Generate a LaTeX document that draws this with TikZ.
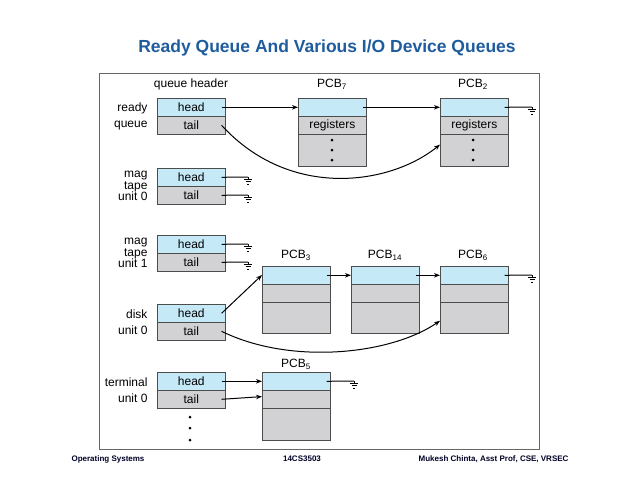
\documentclass[tikz,border=0pt]{standalone}
\usepackage{fontspec}
\setmainfont{Liberation Sans}
\usetikzlibrary{arrows.meta}
\definecolor{cblue}{HTML}{C6E9F8}
\definecolor{cgray}{HTML}{D2D2D4}
\definecolor{ttl}{HTML}{1F5C9E}
\begin{document}
\begin{tikzpicture}[x=1pt,y=-1pt,font=\fontsize{12}{12}\selectfont,
  cell/.style={draw=black!70,line width=0.6pt,minimum width=68pt,inner sep=0pt,anchor=north west},
  hb/.style={cell,fill=cblue,minimum height=18pt},
  gb/.style={cell,fill=cgray,minimum height=18pt},
  big/.style={cell,fill=cgray,minimum height=#1},
  lab/.style={align=right,anchor=east,font=\fontsize{12}{11.5}\selectfont},
  ar/.style={-{Stealth[length=6pt,width=4.5pt]},line width=1pt},
  gl/.style={line width=1pt},
  gnd/.pic={\draw[line width=0.8pt] (0,0)--(0,2) (-4,2)--(4,2) (-2.5,4.5)--(2.5,4.5) (-1,7)--(1,7);},
  dot/.style={circle,fill=black,inner sep=0pt,minimum size=3pt}]
\useasboundingbox (0,0) rectangle (638,493);
\node[font=\bfseries\fontsize{17.5}{19}\selectfont,text=ttl] (title) at (327,48) {Ready Queue And Various I/O Device Queues};
\draw[black!60,line width=0.7pt] (99,73) rectangle (539,449);
\node[font=\bfseries\fontsize{8}{9}\selectfont,text=black!85!blue,anchor=west] (f1) at (68,459) {Operating Systems};
\node[font=\bfseries\fontsize{8}{9}\selectfont,text=black!85!blue] (f2) at (302,459) {14CS3503};
\node[font=\bfseries\fontsize{8}{9}\selectfont,text=black!85!blue,anchor=east] (f3) at (572,459) {Mukesh Chinta, Asst Prof, CSE, VRSEC};
% headers
\node (qh) at (191,84) {queue header};
\node (l7) at (332,84) {PCB\textsubscript{7}};
\node (l2) at (473,84) {PCB\textsubscript{2}};
\node (l3) at (296,255) {PCB\textsubscript{3}};
\node (l14) at (385,255) {PCB\textsubscript{14}};
\node (l6) at (473,255) {PCB\textsubscript{6}};
\node (l5) at (296,364) {PCB\textsubscript{5}};
% queue headers
\node[hb] (rh) at (157,98) {head}; \node[gb] (rt) at (157,116) {tail};
\node[lab,font=\fontsize{12}{16}\selectfont] (rl) at (151,116) {ready\\queue};
\node[hb] (m0h) at (157,168) {head}; \node[gb] (m0t) at (157,186) {tail};
\node[lab] (m0l) at (151,186) {mag\\tape\\unit 0};
\node[hb] (m1h) at (157,235) {head}; \node[gb] (m1t) at (157,253) {tail};
\node[lab] (m1l) at (151,253) {mag\\tape\\unit 1};
\node[hb] (dh) at (157,304) {head}; \node[gb] (dt) at (157,322) {tail};
\node[lab,font=\fontsize{12}{16}\selectfont] (dl) at (151,322) {disk\\unit 0};
\node[hb] (th) at (157,372) {head}; \node[gb] (tt) at (157,390) {tail};
\node[lab,font=\fontsize{12}{16}\selectfont] (tl) at (151,390) {terminal\\unit 0};
\node[dot] (d1) at (190,417) {}; \node[dot] (d2) at (190,428) {}; \node[dot] (d3) at (190,440) {};
% PCBs
\node[hb] (p7h) at (298,98) {}; \node[gb] (p7r) at (298,116) {registers}; \node[big=32pt] (p7b) at (298,134) {};
\node[dot] at (332,140) {}; \node[dot] at (332,150) {}; \node[dot] at (332,160) {};
\node[hb] (p2h) at (440,98) {}; \node[gb] (p2r) at (440,116) {registers}; \node[big=32pt] (p2b) at (440,134) {};
\node[dot] at (473,140) {}; \node[dot] at (473,150) {}; \node[dot] at (473,160) {};
\node[hb] (p3h) at (262,266) {}; \node[gb] (p3r) at (262,284) {}; \node[big=31pt] (p3b) at (262,302) {};
\node[hb] (p14h) at (351,266) {}; \node[gb] (p14r) at (351,284) {}; \node[big=31pt] (p14b) at (351,302) {};
\node[hb] (p6h) at (440,266) {}; \node[gb] (p6r) at (440,284) {}; \node[big=31pt] (p6b) at (440,302) {};
\node[hb] (p5h) at (262,372) {}; \node[gb] (p5r) at (262,390) {}; \node[big=32pt] (p5b) at (262,408) {};
% grounds
\coordinate (g1) at (532,107); \coordinate (g2) at (248,177); \coordinate (g3) at (248,195);
\coordinate (g4) at (248,244); \coordinate (g5) at (248,262); \coordinate (g6) at (532,275);
\coordinate (g7) at (354,381);
\draw[gl] ([xshift=-4pt]p2h.east) -- (g1) pic{gnd};
\draw[gl] ([xshift=-4pt]m0h.east) -- (g2) pic{gnd};
\draw[gl] ([xshift=-4pt]m0t.east) -- (g3) pic{gnd};
\draw[gl] ([xshift=-4pt]m1h.east) -- (g4) pic{gnd};
\draw[gl] ([xshift=-4pt]m1t.east) -- (g5) pic{gnd};
\draw[gl] ([xshift=-4pt]p6h.east) -- (g6) pic{gnd};
\draw[gl] ([xshift=-4pt]p5h.east) -- (g7) pic{gnd};
% arrows
\draw[ar] ([xshift=-4pt]rh.east) -- (p7h.west);
\draw[ar] ([xshift=-4pt]p7h.east) -- (p2h.west);
\draw[ar] ([xshift=-4pt]rt.east) .. controls (290,200) and (390,185) .. ([yshift=-10pt]p2r.south west);
\draw[ar] ([xshift=-4pt]p3h.east) -- (p14h.west);
\draw[ar] ([xshift=-4pt]p14h.east) -- (p6h.west);
\draw[ar] ([xshift=-4pt]dh.east) -- (p3h.north west |- 0,275);
\draw[ar] ([xshift=-4pt]dt.east) .. controls (290,365) and (390,355) .. ([yshift=-3pt]p6b.west);
\draw[ar] ([xshift=-4pt]th.east) -- (p5h.west);
\draw[ar] ([xshift=-4pt]tt.east) -- ([yshift=-6pt]p5h.south west);
\end{tikzpicture}
\end{document}
